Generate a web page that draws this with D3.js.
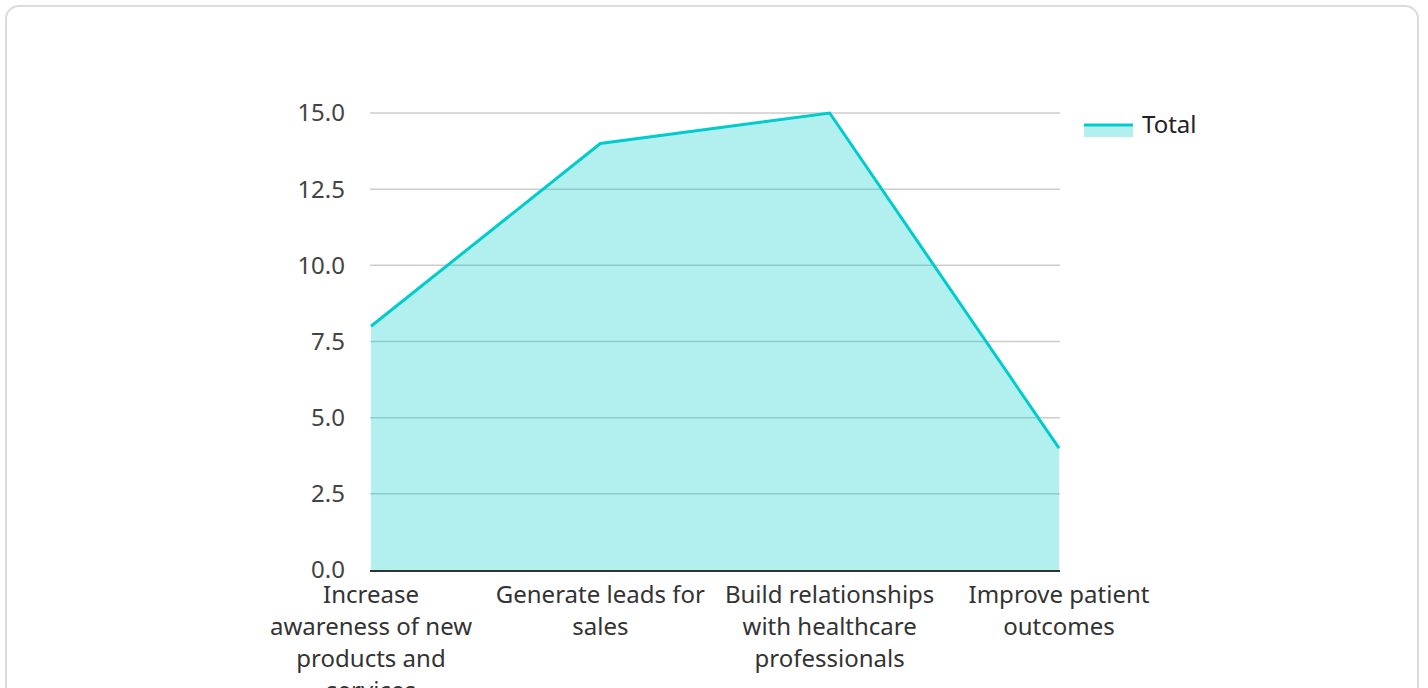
<!DOCTYPE html>
<html>
<head>
<meta charset="utf-8">
<script src="https://cdn.jsdelivr.net/npm/d3@7"></script>
<style>
  body { margin: 0; background: #fff; font-family: "Noto Sans", sans-serif; }
  .card { position: absolute; left: 5px; top: 5px; width: 1414px; height: 720px;
          border: 2px solid #dcdcdc; border-radius: 14px; box-sizing: border-box; }
</style>
</head>
<body>
<div class="card"></div>
<div id="chart" style="position:absolute;left:0;top:0;"></div>
<script>
// category labels, "\n" marks where the reference breaks the line
var categories = [
	"Increase\nawareness of new\nproducts and\nservices",
	"Generate leads for\nsales",
	"Build relationships\nwith healthcare\nprofessionals",
	"Improve patient\noutcomes"
];
var totals = [8, 14, 15, 4];
var yTicks = [0, 2.5, 5, 7.5, 10, 12.5, 15];

var width = 1428, height = 688;
var plotLeft = 371, plotRight = 1059, plotTop = 113, plotBottom = 570;

var svg = d3.select("#chart").append("svg")
	.attr("width", width)
	.attr("height", height);

var x = d3.scalePoint().domain(categories).range([plotLeft, plotRight]);
var y = d3.scaleLinear().domain([0, 15]).range([plotBottom, plotTop]);

// grid
svg.append("g").selectAll("line")
	.data(yTicks.filter(function(d) { return d > 0; }))
	.enter().append("line")
	.attr("x1", plotLeft - 1).attr("x2", plotRight + 1)
	.attr("y1", function(d) { return y(d); })
	.attr("y2", function(d) { return y(d); })
	.attr("stroke", "#cccccc")
	.attr("stroke-width", 1.5);

// y labels
svg.append("g").selectAll("text")
	.data(yTicks)
	.enter().append("text")
	.attr("x", 345)
	.attr("y", function(d) { return y(d); })
	.attr("dy", "0.35em")
	.attr("text-anchor", "end")
	.style("font-size", "24px")
	.style("fill", "#444")
	.text(function(d) { return d3.format(".1f")(d); });

var area = d3.area()
	.x(function(d, i) { return x(categories[i]); })
	.y0(plotBottom)
	.y1(function(d) { return y(d); });

var line = d3.line()
	.x(function(d, i) { return x(categories[i]); })
	.y(function(d) { return y(d); });

svg.append("path")
	.datum(totals)
	.attr("d", area)
	.attr("fill", "#00cccc")
	.attr("fill-opacity", 0.3);

svg.append("path")
	.datum(totals)
	.attr("d", line)
	.attr("fill", "none")
	.attr("stroke", "#00cccc")
	.attr("stroke-width", 3);

// x axis baseline
svg.append("line")
	.attr("x1", plotLeft - 1).attr("x2", plotRight + 1)
	.attr("y1", plotBottom + 1).attr("y2", plotBottom + 1)
	.attr("stroke", "#333")
	.attr("stroke-width", 2);

// x labels
svg.append("g").selectAll("text")
	.data(categories)
	.enter().append("text")
	.attr("text-anchor", "middle")
	.style("font-size", "24px")
	.style("fill", "#333")
	.attr("x", function(d) { return x(d); })
	.attr("y", 603)
	.each(function(d) {
		var el = d3.select(this);
		d.split("\n").forEach(function(l, i) {
			el.append("tspan")
				.attr("x", x(d))
				.attr("dy", i ? 32 : 0)
				.text(l);
		});
	});

// legend
var lg = svg.append("g").attr("transform", "translate(1084,125)");
lg.append("rect").attr("x", 0).attr("y", 0).attr("width", 49).attr("height", 12)
	.attr("fill", "#00cccc").attr("fill-opacity", 0.3);
lg.append("line").attr("x1", 0).attr("x2", 49).attr("y1", 0).attr("y2", 0)
	.attr("stroke", "#00cccc").attr("stroke-width", 3);
lg.append("text").attr("x", 58).attr("y", 0).attr("dy", "0.35em")
	.style("font-size", "24px").style("fill", "#222").text("Total");
</script>
</body>
</html>
